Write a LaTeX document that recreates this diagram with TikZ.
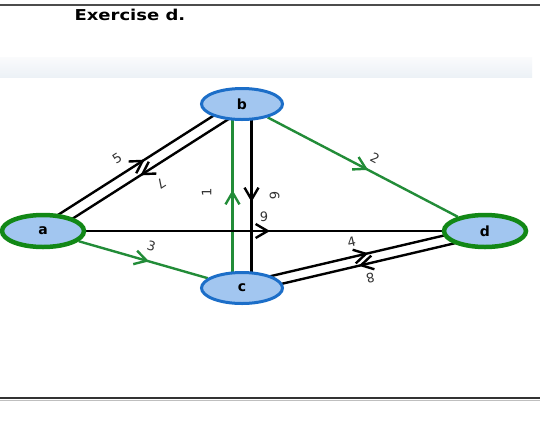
\documentclass[tikz,border=0pt]{standalone}
\usepackage{fontspec}
\setmainfont{DejaVu Sans}
\usepackage{xcolor}
\usetikzlibrary{positioning,arrows.meta,shapes.geometric,calc,backgrounds,decorations.markings}

\definecolor{vfill}{RGB}{162,198,240}
\definecolor{vblue}{RGB}{28,110,200}
\definecolor{vgreen}{RGB}{18,136,22}
\definecolor{egreen}{RGB}{34,140,56}
\definecolor{bandtop}{RGB}{250,251,252}
\definecolor{bandbot}{RGB}{236,241,246}

\begin{document}
\begin{tikzpicture}[
			x=1pt, y=-1pt,
			vertex/.style={ellipse, draw=vblue, fill=vfill, line width=3pt, minimum width=81pt, minimum height=31pt, inner sep=0pt, font=\bfseries\fontsize{14}{14}\selectfont},
			source/.style={vertex, draw=vgreen, line width=4.5pt, minimum width=82pt, minimum height=32pt},
			edge/.style={line width=2.4pt, postaction={decorate}, decoration={markings, mark=at position 0.5 with {\arrow[xshift=6pt]{Straight Barb[length=12pt,width=14pt]}}}},
			treeedge/.style={edge, draw=egreen},
			weight/.style={font=\fontsize{13}{13}\selectfont, text=black!80, sloped, allow upside down, inner sep=0pt}
		]

		\useasboundingbox (0,0) rectangle (540,432);

		% page frame
		\begin{scope}[on background layer]
			\fill[white] (0,0) rectangle (540,432);
			\draw[black!70, line width=1.2pt] (0,5) -- (540,5);
			\shade[top color=bandtop, bottom color=bandbot] (0,57) rectangle (532,77);
			\draw[black!80, line width=2pt] (0,398) -- (540,398);
			\draw[black!25, line width=0.8pt] (0,400.5) -- (540,400.5);
		\end{scope}

		\node[anchor=base west, font=\bfseries\fontsize{15}{15}\selectfont] (title) at (71,20) {\scalebox{1.2}[1]{Exercise d.}};

		% vertices
		\node[vertex] (b) at (242,104) {b};
		\node[source] (a) at (43,231) {a};
		\node[vertex] (c) at (242,288) {c};
		\node[source] (d) at (485,231) {d};

		% edges
		\begin{scope}[on background layer]
			\draw[edge] ($(a)!5.5pt!90:(b)$) -- node[weight, pos=0.43, above=10pt] {5} ($(b)!5.5pt!-90:(a)$);
			\draw[edge] ($(b)!5.5pt!90:(a)$) -- node[weight, pos=0.47, above=12pt] {7} ($(a)!5.5pt!-90:(b)$);
			\draw[edge] ($(b)!9.5pt!90:(c)$) -- node[weight, pos=0.5, above=17pt] {6} ($(c)!9.5pt!-90:(b)$);
			\draw[treeedge] ($(c)!9.5pt!90:(b)$) -- node[weight, pos=0.52, above=20pt] {1} ($(b)!9.5pt!-90:(c)$);
			\draw[edge] ($(c)!5pt!90:(d)$) -- node[weight, pos=0.47, above=9pt] {4} ($(d)!5pt!-90:(c)$);
			\draw[edge] ($(d)!5pt!90:(c)$) -- node[weight, pos=0.49, above=9pt] {8} ($(c)!5pt!-90:(d)$);
			\draw[edge] (a) -- node[weight, pos=0.5, above=8pt] {9} (d);
			\draw[treeedge] (b) -- node[weight, pos=0.53, above=8pt] {2} (d);
			\draw[treeedge] (a) -- node[weight, pos=0.53, above=9pt] {3} (c);
		\end{scope}
	\end{tikzpicture}
\end{document}
